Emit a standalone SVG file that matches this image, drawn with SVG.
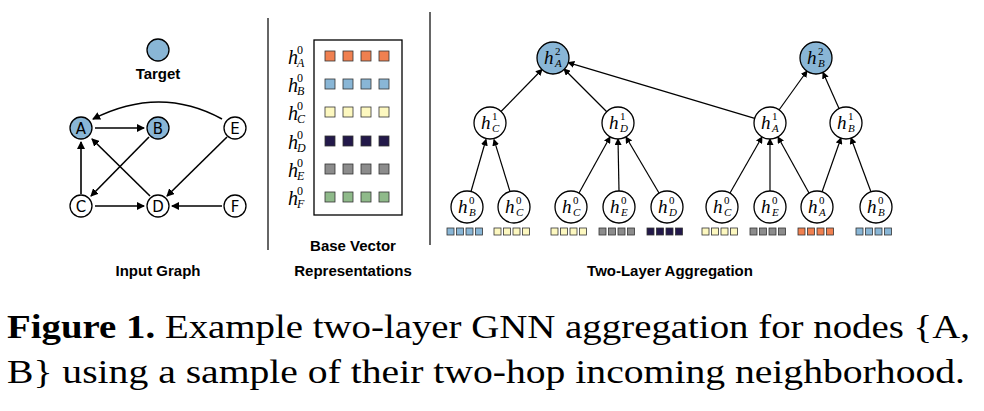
<svg xmlns="http://www.w3.org/2000/svg" width="984" height="411" viewBox="0 0 984 411">
<style>
.n{stroke:#000;stroke-width:1.3;fill:#fff}
.t{fill:#89b6d6}
.e{stroke:#000;stroke-width:1.6;fill:none;marker-end:url(#ar)}
.e2{stroke:#000;stroke-width:1.2;fill:none;marker-end:url(#ar2)}
.lt{font-family:"DejaVu Sans",sans-serif;font-size:15px;text-anchor:middle}
.sans{font-family:"Liberation Sans",Arial,sans-serif;font-size:15px;font-weight:bold;text-anchor:middle}
.h{font-family:"Liberation Serif",serif;font-style:italic}
.s{stroke:#333;stroke-width:0.8}
.bl{fill:#89b6d6}.ye{fill:#fdf8c0}.gr{fill:#8c8c8c}.nv{fill:#23194a}.or{fill:#f08050}.gn{fill:#8fba8a}
.cap{font-family:"Liberation Serif",serif;font-size:34px}
</style>
<defs>
<marker id="ar" markerWidth="8" markerHeight="8" refX="7" refY="4" orient="auto" markerUnits="userSpaceOnUse"><path d="M0,0 L8,4 L0,8 z"/></marker>
<marker id="ar2" markerWidth="7" markerHeight="7" refX="6" refY="3.5" orient="auto" markerUnits="userSpaceOnUse"><path d="M0,0 L7,3.5 L0,7 z"/></marker>
</defs>
<rect width="984" height="411" fill="#fff"/>
<line x1="268" y1="18" x2="268" y2="250" stroke="#333" stroke-width="1.5"/>
<line x1="430" y1="12" x2="430" y2="245" stroke="#333" stroke-width="1.5"/>

<g id="connectors">
<path class="e" d="M95,128 L144,128"/>
<path class="e" d="M81,194 L81,142"/>
<path class="e" d="M149,137 L91,196"/>
<path class="e" d="M150,196 L92,139"/>
<path class="e" d="M95,206 L144,206"/>
<path class="e" d="M227,137 L167,196"/>
<path class="e" d="M222,206 L172,206"/>
<path class="e" d="M222,119 Q160,85 93,119"/>
<path class="e2" d="M501,111.5 L542,69.5"/>
<path class="e2" d="M607,112 L564,69"/>
<path class="e2" d="M754.7,118.4 L568.3,62.6"/>
<path class="e2" d="M779,110 L807,71"/>
<path class="e2" d="M839,108.5 L823,72.5"/>
<path class="e2" d="M471,191.5 L486,139.5"/>
<path class="e2" d="M510,191.6 L494,139.6"/>
<path class="e2" d="M579,193 L610,137"/>
<path class="e2" d="M619,191 L618,139"/>
<path class="e2" d="M659,193 L626,137"/>
<path class="e2" d="M730,193 L762,137"/>
<path class="e2" d="M770,191 L770,139"/>
<path class="e2" d="M809,193 L778,137"/>
<path class="e2" d="M822,192 L841,138"/>
<path class="e2" d="M871,192 L851,138"/>
</g>

<g id="legend"><circle cx="158" cy="50" r="11" class="n t"/><text x="158" y="79" class="sans" font-size="13">Target</text></g>
<g id="A"><circle cx="81" cy="128" r="11" class="n t"/><text x="81" y="134" class="lt">A</text></g>
<g id="B"><circle cx="158" cy="128" r="11" class="n t"/><text x="158" y="134" class="lt">B</text></g>
<g id="E"><circle cx="235" cy="128" r="11" class="n"/><text x="235" y="134" class="lt">E</text></g>
<g id="C"><circle cx="81" cy="206" r="11" class="n"/><text x="81" y="212" class="lt">C</text></g>
<g id="D"><circle cx="158" cy="206" r="11" class="n"/><text x="158" y="212" class="lt">D</text></g>
<g id="F"><circle cx="235" cy="206" r="11" class="n"/><text x="235" y="212" class="lt">F</text></g>
<text x="158" y="276" class="sans">Input Graph</text>

<g id="base">
<rect x="314" y="40" width="88" height="175" fill="#fff" stroke="#000" stroke-width="1.3"/>
<g class="h" font-size="20">
<text x="288" y="64">h</text><text x="297" y="54" font-size="12" font-style="normal">0</text><text x="297" y="67" font-size="12">A</text>
<text x="288" y="92">h</text><text x="297" y="82" font-size="12" font-style="normal">0</text><text x="297" y="95" font-size="12">B</text>
<text x="288" y="120">h</text><text x="297" y="110" font-size="12" font-style="normal">0</text><text x="297" y="123" font-size="12">C</text>
<text x="288" y="149">h</text><text x="297" y="139" font-size="12" font-style="normal">0</text><text x="297" y="152" font-size="12">D</text>
<text x="288" y="177">h</text><text x="297" y="167" font-size="12" font-style="normal">0</text><text x="297" y="180" font-size="12">E</text>
<text x="288" y="205">h</text><text x="297" y="195" font-size="12" font-style="normal">0</text><text x="297" y="208" font-size="12">F</text>
</g>
<g class="s">
<rect class="or" x="325" y="51" width="10" height="10"/><rect class="or" x="343" y="51" width="10" height="10"/><rect class="or" x="361" y="51" width="10" height="10"/><rect class="or" x="379" y="51" width="10" height="10"/>
<rect class="bl" x="325" y="79" width="10" height="10"/><rect class="bl" x="343" y="79" width="10" height="10"/><rect class="bl" x="361" y="79" width="10" height="10"/><rect class="bl" x="379" y="79" width="10" height="10"/>
<rect class="ye" x="325" y="107" width="10" height="10"/><rect class="ye" x="343" y="107" width="10" height="10"/><rect class="ye" x="361" y="107" width="10" height="10"/><rect class="ye" x="379" y="107" width="10" height="10"/>
<rect class="nv" x="325" y="136" width="10" height="10"/><rect class="nv" x="343" y="136" width="10" height="10"/><rect class="nv" x="361" y="136" width="10" height="10"/><rect class="nv" x="379" y="136" width="10" height="10"/>
<rect class="gr" x="325" y="164" width="10" height="10"/><rect class="gr" x="343" y="164" width="10" height="10"/><rect class="gr" x="361" y="164" width="10" height="10"/><rect class="gr" x="379" y="164" width="10" height="10"/>
<rect class="gn" x="325" y="192" width="10" height="10"/><rect class="gn" x="343" y="192" width="10" height="10"/><rect class="gn" x="361" y="192" width="10" height="10"/><rect class="gn" x="379" y="192" width="10" height="10"/>
</g>
</g>
<text x="353" y="251" class="sans">Base Vector</text>
<text x="353" y="276" class="sans">Representations</text>

<g id="tree" class="h" font-size="19">
<g id="h2A"><circle cx="553" cy="58" r="16" class="n t"/><text x="544" y="64">h</text><text x="555" y="55" font-size="11" font-style="normal">2</text><text x="555" y="67" font-size="11">A</text></g>
<g id="h2B"><circle cx="816" cy="58" r="16" class="n t"/><text x="807" y="64">h</text><text x="818" y="55" font-size="11" font-style="normal">2</text><text x="818" y="67" font-size="11">B</text></g>
<g id="h1C"><circle cx="490" cy="123" r="16" class="n"/><text x="481" y="129">h</text><text x="492" y="120" font-size="11" font-style="normal">1</text><text x="492" y="132" font-size="11">C</text></g>
<g id="h1D"><circle cx="618" cy="123" r="16" class="n"/><text x="609" y="129">h</text><text x="620" y="120" font-size="11" font-style="normal">1</text><text x="620" y="132" font-size="11">D</text></g>
<g id="h1A"><circle cx="770" cy="123" r="16" class="n"/><text x="761" y="129">h</text><text x="772" y="120" font-size="11" font-style="normal">1</text><text x="772" y="132" font-size="11">A</text></g>
<g id="h1B"><circle cx="846" cy="123" r="16" class="n"/><text x="837" y="129">h</text><text x="848" y="120" font-size="11" font-style="normal">1</text><text x="848" y="132" font-size="11">B</text></g>
<g id="l0B1"><circle cx="467" cy="207" r="16" class="n"/><text x="458" y="213">h</text><text x="469" y="204" font-size="11" font-style="normal">0</text><text x="469" y="216" font-size="11">B</text></g>
<g id="l0C1"><circle cx="514" cy="207" r="16" class="n"/><text x="505" y="213">h</text><text x="516" y="204" font-size="11" font-style="normal">0</text><text x="516" y="216" font-size="11">C</text></g>
<g id="l0C2"><circle cx="571" cy="207" r="16" class="n"/><text x="562" y="213">h</text><text x="573" y="204" font-size="11" font-style="normal">0</text><text x="573" y="216" font-size="11">C</text></g>
<g id="l0E1"><circle cx="619" cy="207" r="16" class="n"/><text x="610" y="213">h</text><text x="621" y="204" font-size="11" font-style="normal">0</text><text x="621" y="216" font-size="11">E</text></g>
<g id="l0D"><circle cx="667" cy="207" r="16" class="n"/><text x="658" y="213">h</text><text x="669" y="204" font-size="11" font-style="normal">0</text><text x="669" y="216" font-size="11">D</text></g>
<g id="l0C3"><circle cx="722" cy="207" r="16" class="n"/><text x="713" y="213">h</text><text x="724" y="204" font-size="11" font-style="normal">0</text><text x="724" y="216" font-size="11">C</text></g>
<g id="l0E2"><circle cx="770" cy="207" r="16" class="n"/><text x="761" y="213">h</text><text x="772" y="204" font-size="11" font-style="normal">0</text><text x="772" y="216" font-size="11">E</text></g>
<g id="l0A"><circle cx="817" cy="207" r="16" class="n"/><text x="808" y="213">h</text><text x="819" y="204" font-size="11" font-style="normal">0</text><text x="819" y="216" font-size="11">A</text></g>
<g id="l0B2"><circle cx="876" cy="207" r="16" class="n"/><text x="867" y="213">h</text><text x="878" y="204" font-size="11" font-style="normal">0</text><text x="878" y="216" font-size="11">B</text></g>
</g>
<g id="vecs" class="s">
<rect class="bl" x="447" y="228" width="7" height="7"/><rect class="bl" x="456.5" y="228" width="7" height="7"/><rect class="bl" x="466" y="228" width="7" height="7"/><rect class="bl" x="475.5" y="228" width="7" height="7"/>
<rect class="ye" x="494" y="228" width="7" height="7"/><rect class="ye" x="503.5" y="228" width="7" height="7"/><rect class="ye" x="513" y="228" width="7" height="7"/><rect class="ye" x="522.5" y="228" width="7" height="7"/>
<rect class="ye" x="551" y="228" width="7" height="7"/><rect class="ye" x="560.5" y="228" width="7" height="7"/><rect class="ye" x="570" y="228" width="7" height="7"/><rect class="ye" x="579.5" y="228" width="7" height="7"/>
<rect class="gr" x="599" y="228" width="7" height="7"/><rect class="gr" x="608.5" y="228" width="7" height="7"/><rect class="gr" x="618" y="228" width="7" height="7"/><rect class="gr" x="627.5" y="228" width="7" height="7"/>
<rect class="nv" x="647" y="228" width="7" height="7"/><rect class="nv" x="656.5" y="228" width="7" height="7"/><rect class="nv" x="666" y="228" width="7" height="7"/><rect class="nv" x="675.5" y="228" width="7" height="7"/>
<rect class="ye" x="702" y="228" width="7" height="7"/><rect class="ye" x="711.5" y="228" width="7" height="7"/><rect class="ye" x="721" y="228" width="7" height="7"/><rect class="ye" x="730.5" y="228" width="7" height="7"/>
<rect class="gr" x="750" y="228" width="7" height="7"/><rect class="gr" x="759.5" y="228" width="7" height="7"/><rect class="gr" x="769" y="228" width="7" height="7"/><rect class="gr" x="778.5" y="228" width="7" height="7"/>
<rect class="or" x="798" y="228" width="7" height="7"/><rect class="or" x="807.5" y="228" width="7" height="7"/><rect class="or" x="817" y="228" width="7" height="7"/><rect class="or" x="826.5" y="228" width="7" height="7"/>
<rect class="bl" x="856" y="228" width="7" height="7"/><rect class="bl" x="865.5" y="228" width="7" height="7"/><rect class="bl" x="875" y="228" width="7" height="7"/><rect class="bl" x="884.5" y="228" width="7" height="7"/>
</g>
<text x="670" y="276" class="sans">Two-Layer Aggregation</text>

<text x="7" y="338" class="cap" textLength="963" lengthAdjust="spacingAndGlyphs"><tspan font-weight="bold">Figure 1.</tspan> Example two-layer GNN aggregation for nodes {A,</text>
<text x="7" y="383" class="cap" textLength="958" lengthAdjust="spacingAndGlyphs">B} using a sample of their two-hop incoming neighborhood.</text>
</svg>
